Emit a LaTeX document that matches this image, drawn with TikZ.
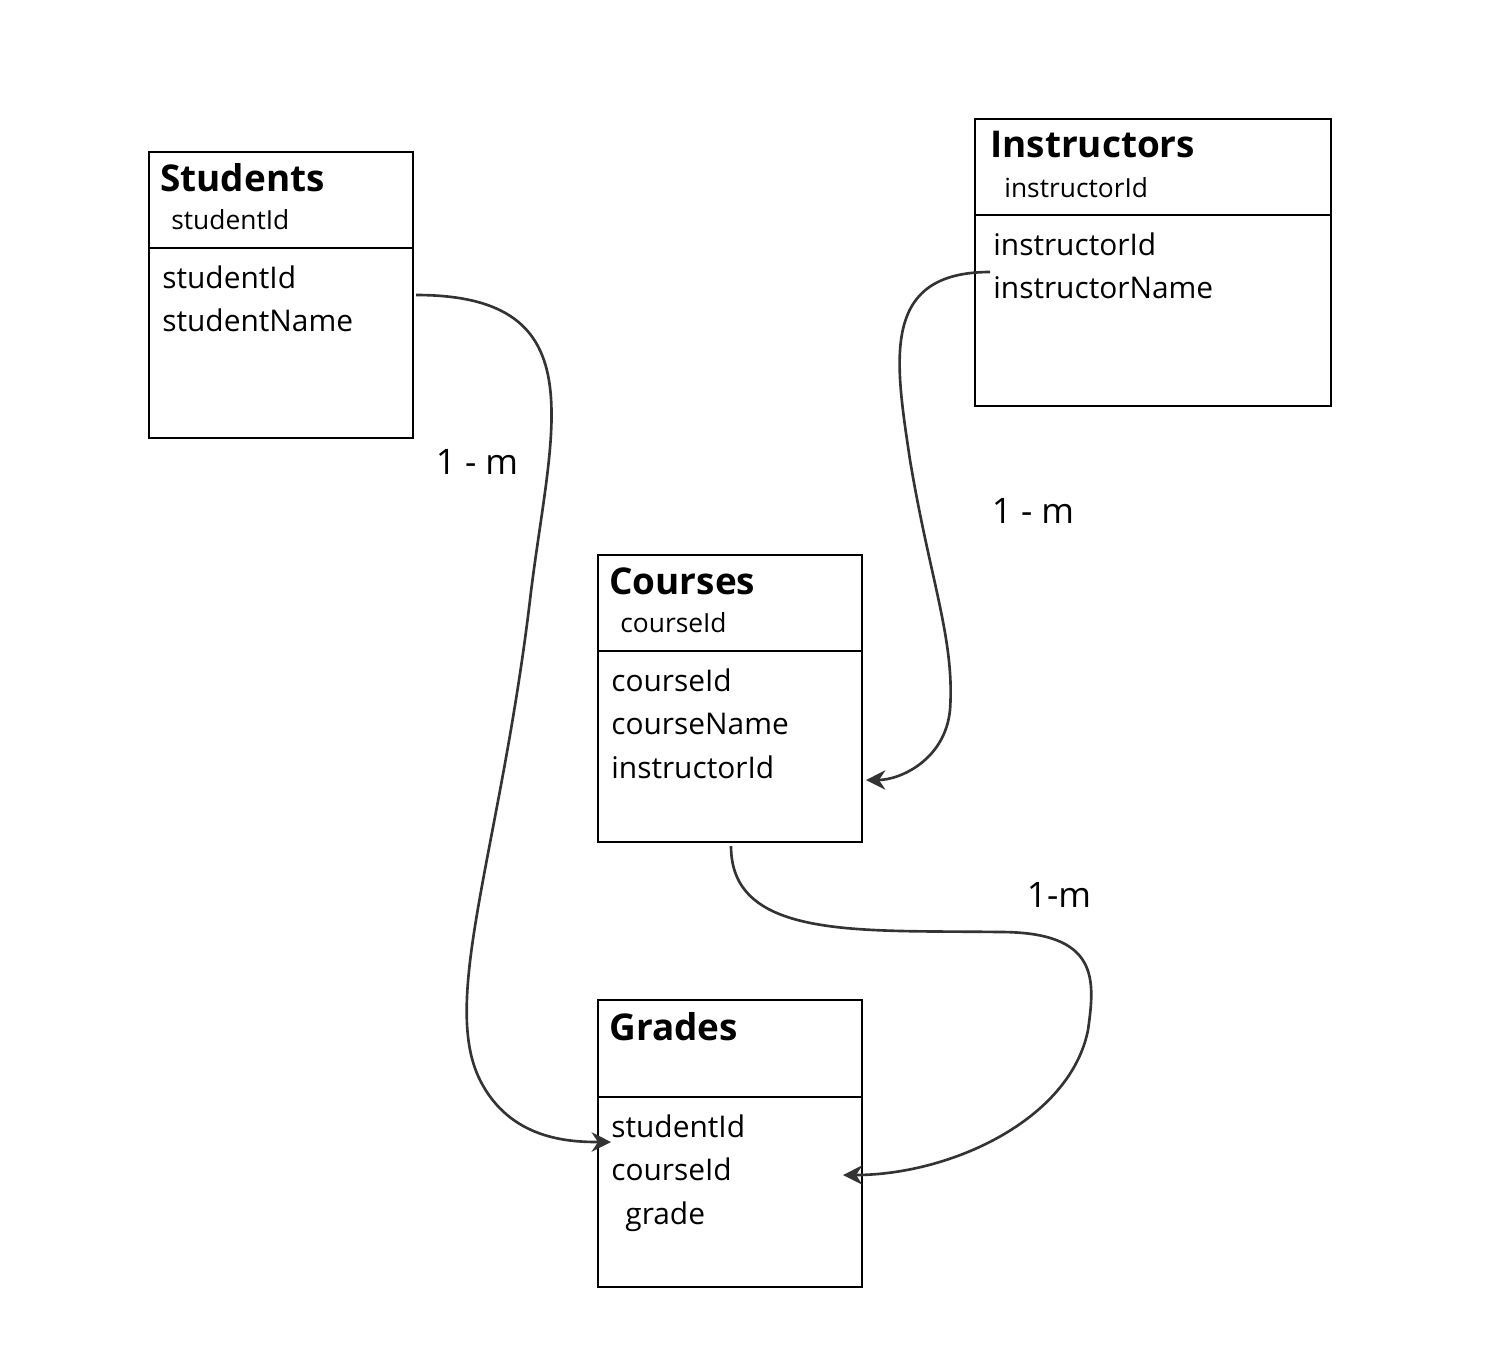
\documentclass[tikz,border=0pt]{standalone}
\usepackage{fontspec}
\setmainfont{Open Sans}
\usetikzlibrary{positioning}
\usetikzlibrary{arrows.meta}
\tikzset{
  tbl/.style={draw, line width=1.6pt},
  ttl/.style={anchor=west, font=\fontsize{21}{24}\selectfont\bfseries, inner sep=0pt},
  key/.style={anchor=west, font=\fontsize{15}{18}\selectfont, inner sep=0pt},
  att/.style={anchor=north west, align=left, font=\fontsize{17}{25}\selectfont, inner sep=0pt},
  rel/.style={draw=black!80, line width=1.5pt, -{Stealth[length=11pt,width=11pt]}},
  card/.style={font=\fontsize{20}{24}\selectfont, inner sep=0pt}
}
\begin{document}
\begin{tikzpicture}[x=0.02cm, y=-0.02cm]
        \useasboundingbox (0,0) rectangle (1486,1366);
        % tables
        \draw[tbl] (149,152) rectangle (413,438) (149,248) -- (413,248);
        \draw[tbl] (975,119) rectangle (1331,406) (975,215) -- (1331,215);
        \draw[tbl] (598,555) rectangle (862,842) (598,651) -- (862,651);
        \draw[tbl] (598,1000) rectangle (862,1287) (598,1097) -- (862,1097);

        \node[ttl] (stu) at (160,178) {Students};
        \node[key] (stuk) at (171,220) {studentId};
        \node[att] (stua) at (162,265) {studentId\\studentName};

        \node[ttl] (ins) at (990,145) {Instructors};
        \node[key] (insk) at (1004,188) {instructorId};
        \node[att] (insa) at (993,232) {instructorId\\instructorName};

        \node[ttl] (crs) at (609,581) {Courses};
        \node[key] (crsk) at (620,623) {courseId};
        \node[att] (crsa) at (611,668) {courseId\\courseName\\instructorId};

        \node[ttl] (grd) at (609,1027) {Grades};
        \node[att] (grda) at (611,1114) {studentId\\courseId\\\hspace{8pt}grade};

        % connector ends
        \coordinate (s-out) at (416,295);
        \coordinate (g-in1) at (611,1142);
        \coordinate (i-out) at (990,272);
        \coordinate (c-in) at (866,780);
        \coordinate (c-out) at (731,846);
        \coordinate (g-in2) at (843,1175);

        \draw[rel] (s-out) .. controls (600,295) and (550,430) .. (530,600)
                   .. controls (500,850) and (440,1000) .. (480,1080)
                   .. controls (510,1140) and (570,1142) .. (g-in1);
        \draw[rel] (i-out) .. controls (880,272) and (895,360) .. (910,460)
                   .. controls (930,580) and (955,640) .. (950,710)
                   .. controls (945,760) and (900,780) .. (c-in);
        \draw[rel] (c-out) .. controls (731,940) and (860,930) .. (1000,932)
                   .. controls (1100,932) and (1095,980) .. (1088,1030)
                   .. controls (1070,1120) and (950,1175) .. (g-in2);

        \node[card] (r1) at (477,462) {1 - m};
        \node[card] (r2) at (1033,511) {1 - m};
        \node[card] (r3) at (1059,895) {1-m};
\end{tikzpicture}
\end{document}
